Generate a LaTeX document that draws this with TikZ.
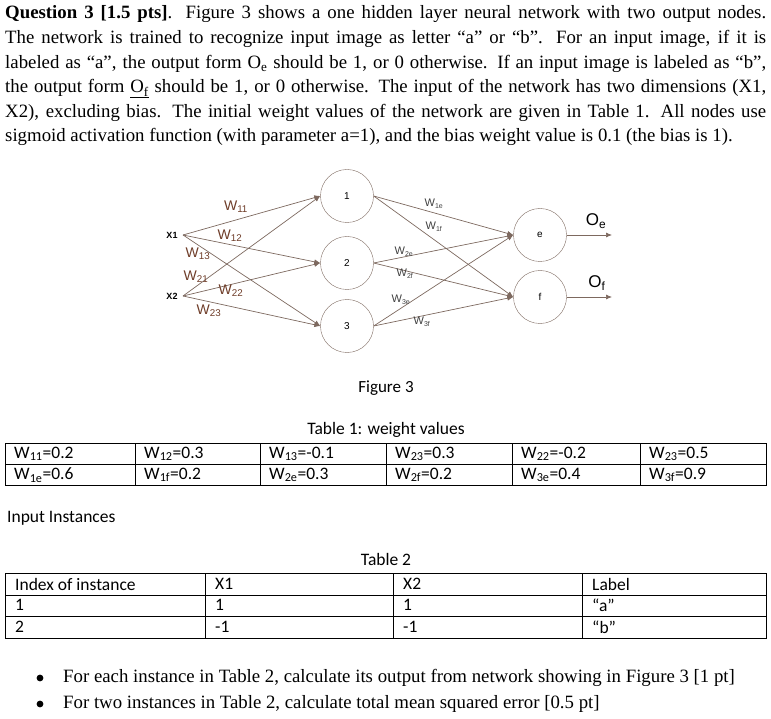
\documentclass[tikz,border=0pt]{standalone}
\usepackage{fontspec}
\setmainfont{Liberation Serif}
\newfontfamily\carl{Carlito}
\newfontfamily\ari{Liberation Sans}
\usetikzlibrary{arrows.meta}
\definecolor{edge}{RGB}{125,105,95}
\definecolor{wlab}{RGB}{110,60,40}
\tikzset{x=1pt,y=-1pt,
 neuron/.style={circle,draw=edge,minimum size=53pt,inner sep=0pt,font=\ari\fontsize{10}{11}\selectfont},
 conn/.style={draw=edge,line width=0.7pt,-{Latex[length=6pt,width=5pt]}},
 wl/.style={text=wlab,font=\ari\fontsize{14}{15}\selectfont,inner sep=0pt},
 wr/.style={text=black!75,font=\ari\fontsize{11}{12}\selectfont,inner sep=0pt},
 para/.style={anchor=west,inner sep=0pt,font=\fontsize{18.8}{21}\selectfont},
 tab/.style={anchor=west,inner sep=0pt,font=\carl\fontsize{17.5}{19}\selectfont},
 grid/.style={draw=black,line width=0.6pt}}
\begin{document}
\begin{tikzpicture}
\useasboundingbox (0,0) rectangle (771,719);
% paragraph
\node[para] (p1) at (5,14) {\makebox[761pt][s]{\textbf{Question 3 [1.5 pts]}. Figure 3 shows a one hidden layer neural network with two output nodes.}};
\node[para] (p2) at (5,39) {\makebox[761pt][s]{The network is trained to recognize input image as letter “a” or “b”. For an input image, if it is}};
\node[para] (p3) at (5,64) {\makebox[761pt][s]{labeled as “a”, the output form O\textsubscript{e} should be 1, or 0 otherwise. If an input image is labeled as “b”,}};
\node[para] (p4) at (5,89) {\makebox[761pt][s]{the output form \underline{O\textsubscript{f}} should be 1, or 0 otherwise. The input of the network has two dimensions (X1,}};
\node[para] (p5) at (5,113) {\makebox[761pt][s]{X2), excluding bias. The initial weight values of the network are given in Table 1. All nodes use}};
\node[para] (p6) at (5,137) {sigmoid activation function (with parameter a=1), and the bias weight value is 0.1 (the bias is 1).};
% network
\node[font=\ari\bfseries\fontsize{9}{10}\selectfont,inner sep=1pt] (x1) at (172,235) {X1};
\node[font=\ari\bfseries\fontsize{9}{10}\selectfont,inner sep=1pt] (x2) at (172,296) {X2};
\coordinate (x1o) at (183,235);
\coordinate (x2o) at (183,296);
\node[neuron] (h1) at (347,196) {1};
\node[neuron] (h2) at (347,263) {2};
\node[neuron] (h3) at (347,326) {3};
\node[neuron] (e) at (540,235) {e};
\node[neuron] (f) at (540,297) {f};
\coordinate (oe) at (612,235);
\coordinate (of) at (612,297);
\foreach \s in {x1o,x2o}{\foreach \t in {h1,h2,h3}{\draw[conn] (\s) -- (\t.west);}}
\foreach \s in {h1,h2,h3}{\foreach \t in {e,f}{\draw[conn] (\s.east) -- (\t.west);}}
\draw[conn] (e.east) -- (oe);
\draw[conn] (f.east) -- (of);
\node[font=\ari\fontsize{17}{18}\selectfont] (loe) at (596,221) {O\textsubscript{e}};
\node[font=\ari\fontsize{17}{18}\selectfont] (lof) at (597,283) {O\textsubscript{f}};
\node[wl] (w11) at (236,207) {W\textsubscript{11}};
\node[wl] (w12) at (230,236) {W\textsubscript{12}};
\node[wl] (w13) at (198,254) {W\textsubscript{13}};
\node[wl] (w21) at (196,277) {W\textsubscript{21}};
\node[wl] (w22) at (231,291) {W\textsubscript{22}};
\node[wl] (w23) at (209,311) {W\textsubscript{23}};
\node[wr] (w1e) at (434,204) {W\textsubscript{\scriptsize 1e}};
\node[wr] (w1f) at (434,227) {W\textsubscript{\scriptsize 1f}};
\node[wr] (w2e) at (404,252) {W\textsubscript{\scriptsize 2e}};
\node[wr] (w2f) at (405,274) {W\textsubscript{\scriptsize 2f}};
\node[wr] (w3e) at (401,300) {W\textsubscript{\scriptsize 3e}};
\node[wr] (w3f) at (422,322) {W\textsubscript{\scriptsize 3f}};
\node[font=\carl\fontsize{17}{19}\selectfont] (fig) at (386,388) {Figure 3};
% table 1
\node[font=\carl\fontsize{17.5}{19}\selectfont] (t1) at (386,430) {Table 1: weight values};
\draw[grid] (5,443) rectangle (766,485);
\draw[grid] (5,464) -- (766,464);
\foreach \x in {135,260,386,512,640}{\draw[grid] (\x,443) -- (\x,485);}
\node[tab] (a1) at (14,454) {W\textsubscript{11}=0.2};
\node[tab] (a2) at (144,454) {W\textsubscript{12}=0.3};
\node[tab] (a3) at (269,454) {W\textsubscript{13}=-0.1};
\node[tab] (a4) at (395,454) {W\textsubscript{23}=0.3};
\node[tab] (a5) at (521,454) {W\textsubscript{22}=-0.2};
\node[tab] (a6) at (649,454) {W\textsubscript{23}=0.5};
\node[tab] (b1) at (14,475) {W\textsubscript{1e}=0.6};
\node[tab] (b2) at (144,475) {W\textsubscript{1f}=0.2};
\node[tab] (b3) at (269,475) {W\textsubscript{2e}=0.3};
\node[tab] (b4) at (395,475) {W\textsubscript{2f}=0.2};
\node[tab] (b5) at (521,475) {W\textsubscript{3e}=0.4};
\node[tab] (b6) at (649,475) {W\textsubscript{3f}=0.9};
\node[tab] (ii) at (7,518) {Input Instances};
% table 2
\node[font=\carl\fontsize{17.5}{19}\selectfont] (t2) at (386,559) {Table 2};
\draw[grid] (5,573) rectangle (766,638);
\draw[grid] (5,595) -- (766,595);
\draw[grid] (5,616) -- (766,616);
\foreach \x in {205,393,582}{\draw[grid] (\x,573) -- (\x,638);}
\node[tab] (c1) at (15,584) {Index of instance};
\node[tab] (c2) at (215,584) {X1};
\node[tab] (c3) at (403,584) {X2};
\node[tab] (c4) at (592,584) {Label};
\node[tab] (d1) at (15,605) {1};
\node[tab] (d2) at (215,605) {1};
\node[tab] (d3) at (403,605) {1};
\node[tab] (d4) at (592,605) {“a”};
\node[tab] (e1) at (15,627) {2};
\node[tab] (e2) at (215,627) {-1};
\node[tab] (e3) at (403,627) {-1};
\node[tab] (e4) at (592,627) {“b”};
% bullets
\fill (40,678) circle (3.4pt);
\fill (40,704) circle (3.4pt);
\node[para] (q1) at (63,678) {For each instance in Table 2, calculate its output from network showing in Figure 3 [1 pt]};
\node[para] (q2) at (63,704) {For two instances in Table 2, calculate total mean squared error [0.5 pt]};
\end{tikzpicture}
\end{document}
